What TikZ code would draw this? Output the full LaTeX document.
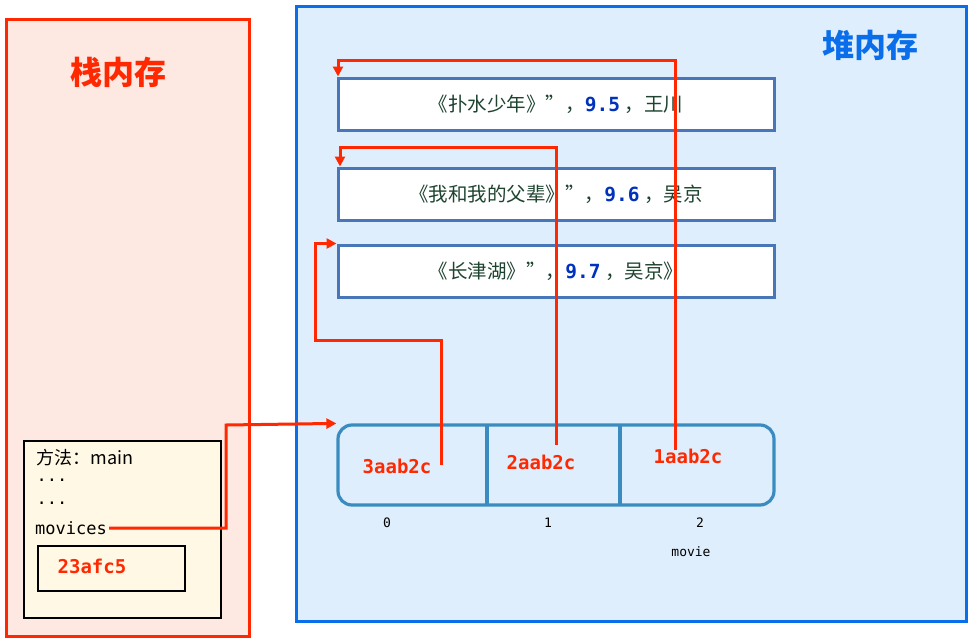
\documentclass[tikz,border=0pt]{standalone}
\usepackage{fontspec}
\setmainfont{Noto Sans CJK SC}
\setmonofont{DejaVu Sans Mono}
\newfontfamily\cjk{Noto Sans CJK SC}
\usetikzlibrary{arrows.meta, calc}

\definecolor{ptrred}{RGB}{255,40,0}
\definecolor{stackfill}{RGB}{253,232,226}
\definecolor{heapblue}{RGB}{10,110,235}
\definecolor{heapfill}{RGB}{222,238,252}
\definecolor{boxblue}{RGB}{72,118,185}
\definecolor{arrblue}{RGB}{58,140,192}
\definecolor{methodfill}{RGB}{255,248,228}
\definecolor{cjkgreen}{RGB}{30,68,48}
\definecolor{numblue}{RGB}{0,50,190}

\tikzset{
    membox/.style={draw, line width=3pt, anchor=north west, inner sep=0pt},
    moviebox/.style={draw=boxblue, fill=white, line width=3pt, minimum width=436pt, minimum height=52pt, inner sep=0pt, text=cjkgreen, font=\fontsize{19.5}{22}\selectfont},
    ptr/.style={draw=ptrred, line width=3pt, -{Triangle[length=10pt,width=10pt]}},
    addr/.style={text=ptrred, font=\ttfamily\bfseries\fontsize{19}{22}\selectfont},
    idx/.style={font=\ttfamily\fontsize{13}{15}\selectfont}
}
\newcommand{\num}[1]{\textcolor{numblue}{\ttfamily\bfseries #1}}

\begin{document}
\begin{tikzpicture}[x=1pt, y=-1pt]
    \useasboundingbox (0,0) rectangle (975,640);
    % stack and heap
    \node[membox, draw=ptrred, fill=stackfill, minimum width=243pt, minimum height=617pt] (stack) at (5,18) {};
    \node[text=ptrred, font=\bfseries\fontsize{32}{36}\selectfont] (stacktitle) at (118,72) {栈内存};
    \node[membox, draw=heapblue, fill=heapfill, minimum width=670pt, minimum height=615pt] (heap) at (295,5) {};
    \node[text=heapblue, font=\bfseries\fontsize{32}{36}\selectfont] (heaptitle) at (870,45) {堆内存};

    % movie objects
    \node[moviebox] (movieA) at (556,104) {《扑水少年》”，\num{9.5} ，王川};
    \node[moviebox] (movieB) at (556,194) {《我和我的父辈》”，\num{9.6} ，吴京};
    \node[moviebox] (movieC) at (556,271) {《长津湖》”，\num{9.7} ，吴京》};

    % array
    \node[draw=arrblue, line width=3.2pt, rounded corners=14pt, minimum width=436pt, minimum height=80pt] (arr) at (556,465) {};
    \draw[arrblue, line width=3.2pt] (487,425) -- (487,505);
    \draw[arrblue, line width=3.2pt] (620,425) -- (620,505);
    \node[addr] (a0) at (397,466) {3aab2c};
    \node[addr] (a1) at (541,462) {2aab2c};
    \node[addr] (a2) at (688,456) {1aab2c};
    \node[idx] (i0) at (387,523) {0};
    \node[idx] (i1) at (548,523) {1};
    \node[idx] (i2) at (700,523) {2};
    \node[idx] (arrname) at (691,552) {movie};

    % method frame
    \node[membox, draw=black, line width=1.6pt, fill=methodfill, minimum width=197pt, minimum height=177pt] (method) at (23,440) {};
    \node[anchor=west, font=\fontsize{18}{20}\selectfont] (mname) at (33,458) {方法：main};
    \node[anchor=west, font=\ttfamily\fontsize{17}{20}\selectfont] (dots1) at (33,480) {...};
    \node[anchor=west, font=\ttfamily\fontsize{17}{20}\selectfont] (dots2) at (33,503) {...};
    \node[anchor=west, font=\ttfamily\fontsize{17}{20}\selectfont, inner xsep=2pt] (movices) at (33,528) {movices};
    \node[membox, draw=black, line width=1.6pt, minimum width=147pt, minimum height=45pt] (addrbox) at (37,545) {};
    \node[addr] (a3) at (92,566) {23afc5};

    % pointers
    \coordinate (bend0) at (226,425);
    \coordinate (s0) at (441,465);
    \coordinate (b0) at (315,340);
    \coordinate (s1) at (556,445);
    \coordinate (b1) at (340,147);
    \coordinate (s2) at (675,450);
    \coordinate (b2) at (338,60);
    \draw[ptr] (movices.east) -| (bend0) -- (arr.north west);
    \draw[ptr] (s0) |- (b0) |- (movieC.north west);
    \draw[ptr] (s1) |- (b1) -- (b1 |- movieB.north);
    \draw[ptr] (s2) |- (b2) -- (b2 |- movieA.north);
\end{tikzpicture}
\end{document}
